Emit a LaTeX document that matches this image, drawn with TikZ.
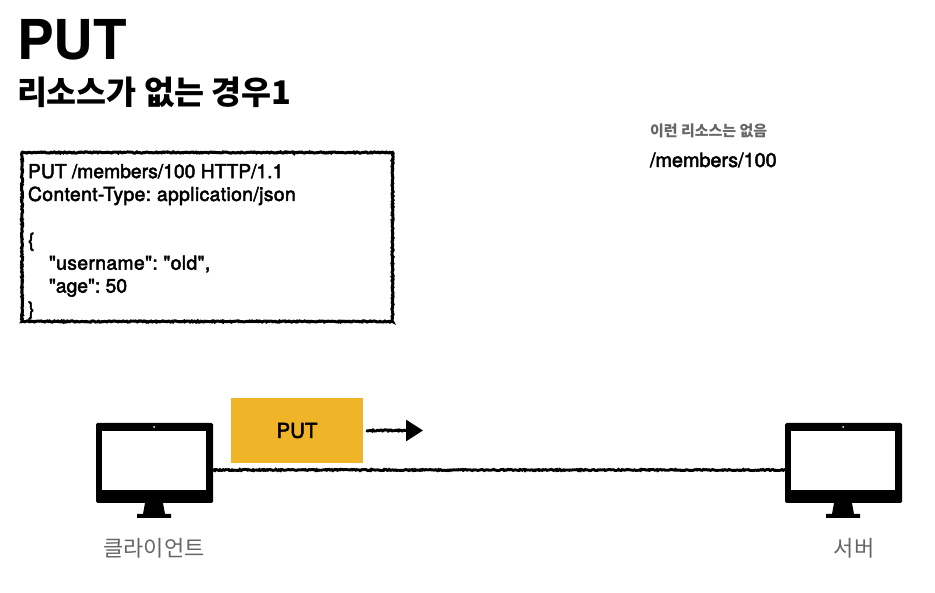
\documentclass[tikz,border=0pt]{standalone}
\usepackage{fontspec}
\usepackage{xcolor}
\setmainfont{TeX Gyre Heros}
\newfontfamily\krfont{Noto Sans CJK KR}
\newfontfamily\reqfont{TeX Gyre Heros}
\newfontfamily\reqwide[LetterSpace=2]{TeX Gyre Heros}
\newcommand{\medon}{\special{pdf: code 2 Tr 0.5 w}}
\newcommand{\medoff}{\special{pdf: code 0 Tr 1 w}}
\usetikzlibrary{arrows.meta,decorations.pathmorphing}
\definecolor{putfill}{HTML}{EFB428}
\definecolor{labelgray}{HTML}{666666}
\tikzset{
  rough/.style={decorate,decoration={random steps,segment length=1.2pt,amplitude=0.6pt}},
  txt/.style={inner sep=0pt,outer sep=0pt,anchor=base west},
  monitorbody/.style={fill=black,rounded corners=1.5pt,inner sep=0pt,outer sep=0pt,minimum width=117pt,minimum height=80pt},
  monitorscreen/.style={fill=white,inner sep=0pt,outer sep=0pt,minimum width=104pt,minimum height=59pt},
  camdot/.style={fill=white,circle,inner sep=0pt,minimum size=2pt},
  stand/.style={fill=black},
  wire/.style={draw=black,line width=2.9pt,rough},
  arrowtip/.style={draw=black,line width=2.9pt,-{Triangle[length=17pt,width=21pt]}},
  graylabel/.style={text=labelgray,inner sep=0pt,anchor=base,font=\krfont\fontsize{22}{24}\selectfont},
}
\pgfmathsetseed{7}
\begin{document}
\frenchspacing
\begin{tikzpicture}[x=1pt,y=1pt]
\useasboundingbox (0,0) rectangle (935,-593);
% titles
\node[txt,font=\bfseries\fontsize{55}{60}\selectfont] (title) at (17,-60) {PUT};
\node[txt,font=\krfont\bfseries\fontsize{32.6}{35}\selectfont] (subtitle) at (17,-105) {리소스가 없는 경우1};
% request box
\node[draw=black,line width=3pt,rough,inner sep=0pt,minimum width=370.5pt,minimum height=169pt] (request) at (207.3,-237) {};
\node[txt,anchor=north west,align=left,font=\reqfont\fontsize{19.3}{22.9}\selectfont] (requesttext) at (28,-164)
  {\medon PUT /members/100 HTTP/1.1\\
   \reqwide\medon Content-Type: application/json\\
   \mbox{}\\
   \medon\{\\
   \reqwide\medon\hspace*{21pt}"username": "old",\\
   \medon\hspace*{21pt}"age": 50\\
   \medon\}\medoff};
% resource note
\node[txt,text=labelgray,font=\krfont\bfseries\fontsize{15}{16}\selectfont] (note) at (650,-137) {이런 리소스는 없음};
\node[txt,font=\fontsize{19.8}{22}\selectfont] (resource) at (650,-167) {\medon/members/100\medoff};
% client
\node[monitorbody] (client) at (154.5,-463) {};
\node[monitorscreen] (clientscreen) at (154,-460.5) {};
\node[camdot] (clientcam) at (154,-427) {};
\fill[stand] (145,-503) -- (163,-503) -- (165,-514) -- (171,-514) -- (171,-518) -- (137,-518) -- (137,-514) -- (143,-514) -- cycle;
\node[graylabel] (clientlabel) at (154,-556) {클라이언트};
% server
\node[monitorbody] (server) at (843.5,-463) {};
\node[monitorscreen] (serverscreen) at (843,-460.5) {};
\node[camdot] (servercam) at (843,-427) {};
\fill[stand] (834,-503) -- (852,-503) -- (854,-514) -- (860,-514) -- (860,-518) -- (826,-518) -- (826,-514) -- (832,-514) -- cycle;
\node[graylabel] (serverlabel) at (854,-556) {서버};
% connection
\draw[wire] ([yshift=-7pt]client.east) -- ([yshift=-7pt]server.west);
% message
\node[fill=putfill,inner sep=0pt,minimum width=132pt,minimum height=65pt,font=\fontsize{20.5}{22}\selectfont] (put) at (297,-430.5) {\medon PUT\medoff};
\coordinate (arrowbase) at (406,-430.5);
\coordinate (arrowend) at (423,-430.5);
\draw[wire] ([xshift=3pt]put.east) -- (arrowbase);
\draw[arrowtip] (arrowbase) -- (arrowend);
\end{tikzpicture}
\end{document}
